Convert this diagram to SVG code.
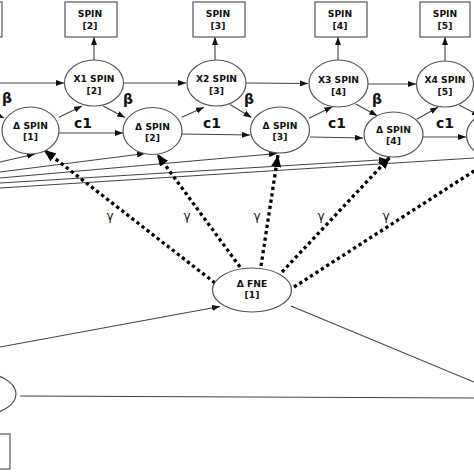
<svg xmlns="http://www.w3.org/2000/svg" width="474" height="474" viewBox="0 0 474 474">
<defs>
<marker id="a" markerUnits="userSpaceOnUse" markerWidth="8" markerHeight="6" refX="8" refY="3" orient="auto"><path d="M0,0 L8,3 L0,6 z" fill="#111"/></marker>
<marker id="b" markerUnits="userSpaceOnUse" markerWidth="12" markerHeight="10" refX="12" refY="5" orient="auto"><path d="M0,0 L12,5 L0,10 z" fill="#000"/></marker>
<style>
.n{fill:#fff;stroke:#555;stroke-width:1.2}
.t{font-family:"DejaVu Sans",Verdana,sans-serif;font-weight:bold;font-size:9.2px;fill:#111;text-anchor:middle}
.l{fill:none;stroke:#444;stroke-width:1.1}
.la{fill:none;stroke:#444;stroke-width:1.1;marker-end:url(#a)}
.d{fill:none;stroke:#000;stroke-width:3.3;stroke-dasharray:3.3 3.1;marker-end:url(#b)}
.be{font-family:"DejaVu Sans",Verdana,sans-serif;font-weight:bold;font-size:14px;fill:#111;text-anchor:middle}
.g{font-family:"DejaVu Sans",Verdana,sans-serif;font-size:12px;fill:#111;text-anchor:middle}
</style>
</defs>
<rect width="474" height="474" fill="#fff"/>
<g id="connectors">
<line class="la" x1="94" y1="60" x2="94" y2="37"/>
<line class="la" x1="215" y1="60" x2="215" y2="37"/>
<line class="la" x1="338" y1="60" x2="338" y2="37"/>
<line class="la" x1="445" y1="61" x2="445" y2="37"/>
<line class="la" x1="-5" y1="83" x2="64" y2="83"/>
<line class="la" x1="124" y1="83" x2="186" y2="83"/>
<line class="la" x1="246" y1="83" x2="308" y2="83.5"/>
<line class="la" x1="368" y1="84" x2="416" y2="84"/>
<line class="la" x1="474" y1="84" x2="500" y2="84"/>
<line class="la" x1="-25" y1="104" x2="4" y2="118"/>
<line class="la" x1="59" y1="117.3" x2="82" y2="106"/>
<line class="la" x1="103" y1="106" x2="125" y2="117.5"/>
<line class="la" x1="181.7" y1="117.3" x2="204" y2="107.3"/>
<line class="la" x1="230" y1="104.5" x2="251.5" y2="117.5"/>
<line class="la" x1="309" y1="118.3" x2="332.3" y2="106.7"/>
<line class="la" x1="355.7" y1="104" x2="377.3" y2="115.7"/>
<line class="la" x1="416.7" y1="119.3" x2="438" y2="107.3"/>
<line class="la" x1="459" y1="105" x2="480" y2="116"/>
<line class="la" x1="59" y1="133" x2="123" y2="133"/>
<line class="la" x1="182" y1="134" x2="250" y2="135"/>
<line class="la" x1="310" y1="137" x2="363" y2="138"/>
<line class="la" x1="423" y1="137" x2="466" y2="137"/>
<line class="la" x1="0" y1="162" x2="35" y2="154"/>
<line class="la" x1="0" y1="172" x2="145" y2="153.5"/>
<line class="la" x1="0" y1="178" x2="277" y2="153.5"/>
<line class="la" x1="0" y1="183" x2="387" y2="159.5"/>
<line class="la" x1="0" y1="188" x2="490" y2="157"/>
<line class="la" x1="0" y1="347" x2="220" y2="306.5"/>
<line class="l" x1="291" y1="306" x2="474" y2="382"/>
<line class="l" x1="20" y1="396" x2="474" y2="398"/>
<line class="d" x1="215" y1="283" x2="44" y2="150"/>
<line class="d" x1="240" y1="267" x2="157" y2="154"/>
<line class="d" x1="261" y1="266" x2="278" y2="155"/>
<line class="d" x1="282" y1="272" x2="390" y2="157"/>
<line class="d" x1="294" y1="287" x2="488" y2="162"/>
<text class="be" x="7" y="103">β</text>
<text class="be" x="128" y="104">β</text>
<text class="be" x="249" y="104">β</text>
<text class="be" x="377" y="104">β</text>
<text class="be" x="83" y="128">c1</text>
<text class="be" x="212" y="128">c1</text>
<text class="be" x="337" y="128">c1</text>
<text class="be" x="445" y="128">c1</text>
<text class="g" x="110" y="220">γ</text>
<text class="g" x="187" y="220">γ</text>
<text class="g" x="257" y="220">γ</text>
<text class="g" x="321" y="220">γ</text>
<text class="g" x="386" y="220">γ</text>
</g>
<g id="spin1"><rect class="n" x="-46" y="2" width="48" height="35"/></g>
<g id="spin2"><rect class="n" x="65" y="2" width="52" height="35"/><text class="t" x="90" y="17">SPIN</text><text class="t" x="90" y="29">[2]</text></g>
<g id="spin3"><rect class="n" x="193" y="2" width="52" height="35"/><text class="t" x="218" y="17">SPIN</text><text class="t" x="218" y="29">[3]</text></g>
<g id="spin4"><rect class="n" x="315" y="2" width="52" height="35"/><text class="t" x="340" y="17">SPIN</text><text class="t" x="340" y="29">[4]</text></g>
<g id="spin5"><rect class="n" x="420" y="2" width="50" height="35"/><text class="t" x="445" y="17">SPIN</text><text class="t" x="445" y="29">[5]</text></g>
<g id="x1"><ellipse class="n" cx="94" cy="83" rx="29.5" ry="23"/><text class="t" x="94" y="82">X1 SPIN</text><text class="t" x="94" y="94">[2]</text></g>
<g id="x2"><ellipse class="n" cx="216.5" cy="83" rx="29.5" ry="23"/><text class="t" x="216.5" y="82">X2 SPIN</text><text class="t" x="216.5" y="94">[3]</text></g>
<g id="x3"><ellipse class="n" cx="338.5" cy="83.5" rx="29.5" ry="23.5"/><text class="t" x="338.5" y="82.5">X3 SPIN</text><text class="t" x="338.5" y="94.5">[4]</text></g>
<g id="x4"><ellipse class="n" cx="445" cy="84" rx="28.5" ry="23"/><text class="t" x="445" y="83">X4 SPIN</text><text class="t" x="445" y="95">[5]</text></g>
<g id="dspin1"><ellipse class="n" cx="30.5" cy="130.5" rx="28.5" ry="23.5"/><text class="t" x="30.5" y="129">Δ SPIN</text><text class="t" x="30.5" y="140">[1]</text></g>
<g id="dspin2"><ellipse class="n" cx="152.5" cy="131" rx="29.5" ry="23.5"/><text class="t" x="152.5" y="129.5">Δ SPIN</text><text class="t" x="152.5" y="140.5">[2]</text></g>
<g id="dspin3"><ellipse class="n" cx="280" cy="130" rx="29.5" ry="23"/><text class="t" x="280" y="128.5">Δ SPIN</text><text class="t" x="280" y="139.5">[3]</text></g>
<g id="dspin4"><ellipse class="n" cx="393.5" cy="134.5" rx="29.5" ry="22.5"/><text class="t" x="393.5" y="133">Δ SPIN</text><text class="t" x="393.5" y="144">[4]</text></g>
<g id="dspin5"><ellipse class="n" cx="496" cy="135" rx="29.5" ry="23.5"/></g>
<g id="dfne1"><ellipse class="n" cx="252" cy="290" rx="39.5" ry="22"/><text class="t" x="252" y="287">Δ FNE</text><text class="t" x="252" y="298">[1]</text></g>
<g id="dfne0"><ellipse class="n" cx="-20" cy="394" rx="36" ry="21"/><text class="t" x="-16" y="396">Δ FNE</text></g>
<g id="box0"><rect class="n" x="-40" y="434" width="50" height="35"/></g>
</svg>
